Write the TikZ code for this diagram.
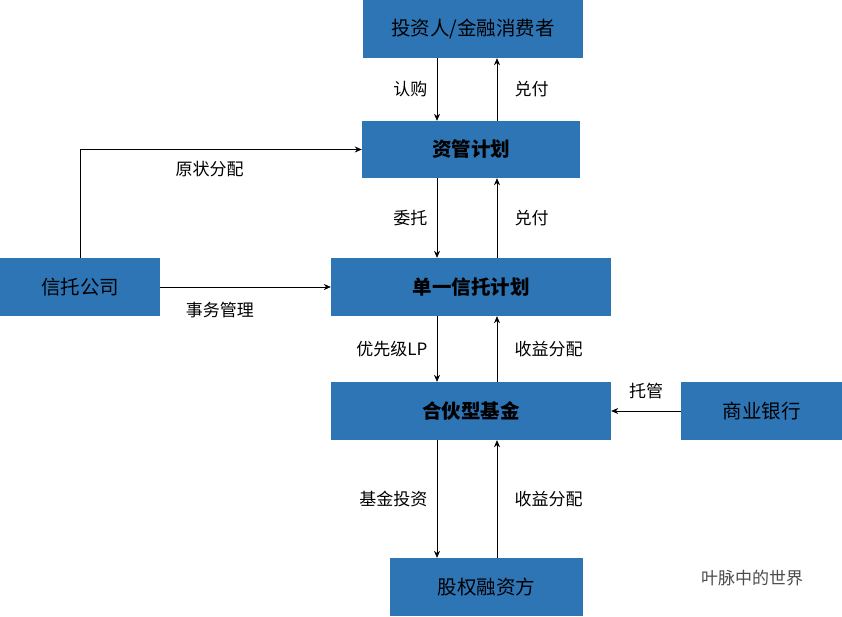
\documentclass[tikz,border=0pt]{standalone}
\usepackage{fontspec}
\setmainfont{Noto Sans CJK SC}
\usetikzlibrary{arrows.meta}
\definecolor{boxblue}{HTML}{2E75B6}
\begin{document}
\begin{tikzpicture}[x=1pt,y=-1pt,
    box/.style={fill=boxblue, draw=none, inner sep=0pt, font=\fontsize{19.5}{21}\selectfont},
    lbl/.style={font=\fontsize{17}{19}\selectfont},
    arr/.style={-{Stealth[length=7pt,width=6pt]}, black, line width=0.6pt}]
  \useasboundingbox (0,0) rectangle (842,616);
  \node (inv) at (473,29) [box, minimum width=220pt, minimum height=58pt] {投资人/金融消费者};
  \node (amp) at (471,149.5) [box, minimum width=218pt, minimum height=57pt] {\bfseries 资管计划};
  \node (trc) at (80,287) [box, minimum width=160pt, minimum height=58pt] {信托公司};
  \node (stp) at (471,287) [box, minimum width=280pt, minimum height=58pt] {\bfseries 单一信托计划};
  \node (fund) at (471,411) [box, minimum width=280pt, minimum height=58pt] {\bfseries 合伙型基金};
  \node (bank) at (761.5,411) [box, minimum width=161pt, minimum height=58pt] {商业银行};
  \node (eq) at (486.5,587) [box, minimum width=193pt, minimum height=58pt] {股权融资方};
  % down and up flows
  \foreach \up/\dn/\dlab/\ulab in {inv/amp/认购/兑付, amp/stp/委托/兑付, stp/fund/优先级LP/收益分配, fund/eq/基金投资/收益分配} {
    \draw[arr] (\up.south -| 437,0) -- node[lbl, left=6pt] {\dlab} (\dn.north -| 437,0);
    \draw[arr] (\dn.north -| 497,0) -- node[lbl, right=14pt] {\ulab} (\up.south -| 497,0);
  }
  \draw[arr] (trc.north) |- node[lbl, pos=0.73, below=8pt] {原状分配} (amp.west);
  \draw[arr] (trc.east) -- node[lbl, pos=0.35, below=12pt] {事务管理} (stp.west);
  \draw[arr] (bank.west) -- node[lbl, above=8pt] {托管} (fund.east);
  \node (wm) at (752,578) [font=\fontsize{17}{19}\selectfont, text=black!70] {叶脉中的世界};
\end{tikzpicture}
\end{document}
